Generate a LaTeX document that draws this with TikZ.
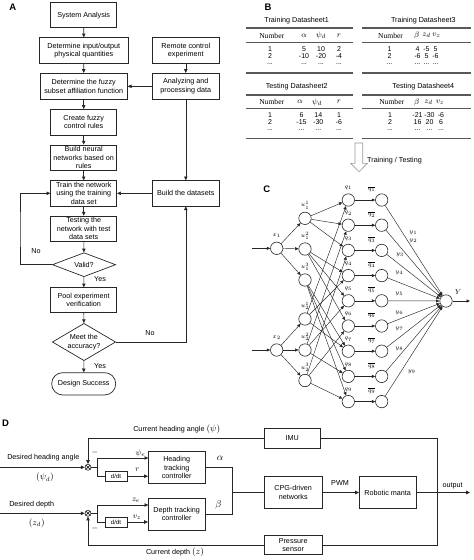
\documentclass[tikz,border=0pt]{standalone}
\usepackage{fontspec}
\setmainfont{Liberation Sans}
\newfontfamily\tnr{Liberation Serif}
\usetikzlibrary{arrows.meta,shapes.geometric}
\newcommand\fs{\fontsize{7.2}{8.4}\selectfont}
\newcommand\fsm{\fontsize{6}{7}\selectfont}
\newcommand\fsb{\fontsize{9.5}{11}\selectfont\bfseries}
\newcommand\tdots{...}
\tikzset{
  ln/.style={line width=0.6pt, draw=black!85},
  arr/.style={ln, -{Triangle[length=3.8pt,width=3.4pt]}},
  fbox/.style={draw=black!85, line width=0.7pt, align=center, inner sep=0pt, font=\fs},
  dia/.style={fbox, diamond, shape aspect=1.7},
  lab/.style={font=\fs, inner sep=0pt},
  plab/.style={font=\fsb, inner sep=0pt},
  nn/.style={circle, draw=black!85, line width=0.6pt, minimum size=12.4pt, inner sep=0pt},
  nlab/.style={font=\fsm, inner sep=0pt},
  narr/.style={line width=0.45pt, draw=black!85, -{Triangle[length=3.4pt,width=3pt]}},
  thick rule/.style={line width=1.1pt, draw=black!65},
  thin rule/.style={line width=0.5pt, draw=black!65},
  tnum/.style={font=\fontsize{7}{8}\selectfont, inner sep=0pt},
  thead/.style={font=\tnr\fontsize{7.6}{8.5}\selectfont, inner sep=0pt},
  sj/.style={circle, draw=black!85, line width=0.6pt, minimum size=6pt, inner sep=0pt},
  mlab/.style={font=\fontsize{8}{9}\selectfont, inner sep=0pt},
}
\begin{document}
\begin{tikzpicture}[x=1pt,y=-1pt]
\useasboundingbox (0,0) rectangle (474,560);

% ================= Panel A =================
\node[plab] at (12.7,7.5) {A};
\node[fbox, minimum width=66pt, minimum height=25pt] (sa) at (83.7,15.2) {System Analysis};
\node[fbox, minimum width=89pt, minimum height=25.6pt] (dio) at (83.8,50.5) {Determine input/output\\physical quantities};
\node[fbox, minimum width=66.3pt, minimum height=25.6pt] (rce) at (185.8,50.5) {Remote control\\experiment};
\node[fbox, minimum width=87.3pt, minimum height=26pt] (dfs) at (83.7,86.3) {Determine the fuzzy\\subset affiliation function};
\node[fbox, minimum width=66.3pt, minimum height=26pt] (apd) at (185.8,86.3) {Analyzing and\\processing data};
\node[fbox, minimum width=66pt, minimum height=25.7pt] (cfr) at (83.7,122.2) {Create fuzzy\\control rules};
\node[fbox, minimum width=66pt, minimum height=25.7pt] (bnn) at (83.7,157.8) {Build neural\\networks based on\\rules};
\node[fbox, minimum width=66pt, minimum height=25.3pt] (trn) at (83.7,193.3) {Train the network\\using the training\\data set};
\node[fbox, minimum width=66.3pt, minimum height=25.3pt] (bds) at (185.8,193.3) {Build the datasets};
\node[fbox, minimum width=66pt, minimum height=25.3pt] (tst) at (83.7,228.7) {Testing the\\network with test\\data sets};
\node[dia, minimum width=63.3pt, minimum height=24pt, shape aspect=2.6] (val) at (84,264.7) {Valid?};
\node[fbox, minimum width=66pt, minimum height=25pt] (pool) at (83.7,300.2) {Pool experiment\\verification};
\node[dia, minimum width=63.3pt, minimum height=37.3pt] (meet) at (84,342) {Meet the\\accuracy?};
\node[fbox, rounded corners=11pt, minimum width=64pt, minimum height=22.3pt] (ds) at (83.7,383.8) {Design Success};

\draw[arr] (sa) -- (dio);
\draw[arr] (dio) -- (dfs);
\draw[arr] (dfs) -- (cfr);
\draw[arr] (cfr) -- (bnn);
\draw[arr] (bnn) -- (trn);
\draw[arr] (trn) -- (tst);
\draw[arr] (tst) -- (val);
\draw[arr] (val) -- (pool);
\draw[arr] (pool) -- (meet);
\draw[arr] (meet) -- (ds);
\draw[arr] (rce) -- (apd);
\draw[arr] (apd) -- (dfs);
\draw[arr] (apd) -- (bds);
\draw[arr] (bds) -- (trn);
\coordinate (nol) at (20,230);
\draw[arr] (val.west) -| (nol) |- (trn.west);
\draw[arr] (meet.east) -| (bds.south);
\node[lab] at (36,251) {No};
\node[lab] at (100,279.5) {Yes};
\node[lab] at (150,332.7) {No};
\node[lab] at (100,366) {Yes};

% ================= Panel B =================
\node[plab] at (268,7.5) {B};
% table 1
\node[lab] at (296.7,20.3) {Training Datasheet1};
\draw[thick rule] (245.7,28) -- (353.3,28);
\draw[thin rule] (245.7,42) -- (353.3,42);
\draw[thick rule] (245.7,73) -- (353.3,73);
\node[thead] at (271.7,35.5) {Number};
\node[mlab] at (304,35.5) {$\alpha$};
\node[mlab] at (321,35.5) {$\psi_d$};
\node[mlab] at (339,35.5) {$r$};
\foreach \a/\b/\c/\d/\y in {1/5/10/2/49.5, 2/-10/-20/-4/56.5, \tdots/\tdots/\tdots/\tdots/64}{
  \node[tnum] at (270,\y) {\a};
  \node[tnum] at (304,\y) {\b};
  \node[tnum] at (321,\y) {\c};
  \node[tnum] at (339,\y) {\d};
}
% table 2
\node[lab] at (296.7,87) {Testing Datasheet2};
\draw[thick rule] (245.7,95) -- (353.3,95);
\draw[thin rule] (245.7,108.5) -- (353.3,108.5);
\draw[thick rule] (245.7,138.5) -- (353.3,138.5);
\node[thead] at (271.7,102) {Number};
\node[mlab] at (300,102) {$\alpha$};
\node[mlab] at (317,102) {$\psi_d$};
\node[mlab] at (339,102) {$r$};
\foreach \a/\b/\c/\d/\y in {1/6/14/1/115.5, 2/-15/-30/-6/122.5, \tdots/\tdots/\tdots/\tdots/130}{
  \node[tnum] at (270,\y) {\a};
  \node[tnum] at (301.5,\y) {\b};
  \node[tnum] at (318.3,\y) {\c};
  \node[tnum] at (339,\y) {\d};
}
% table 3
\node[lab] at (423.3,20.3) {Training Datasheet3};
\draw[thick rule] (362,28) -- (471,28);
\draw[thin rule] (362,42) -- (471,42);
\draw[thick rule] (362,73) -- (471,73);
\node[thead] at (390.5,35.5) {Number};
\node[mlab] at (416.7,35.5) {$\beta$};
\node[mlab] at (426.5,35.5) {$z_d$};
\node[mlab] at (436.5,35.5) {$v_z$};
\foreach \a/\b/\c/\d/\y in {1/4/-5/5/49.5, 2/-6/5/-6/56.5, \tdots/\tdots/\tdots/\tdots/64}{
  \node[tnum] at (389.5,\y) {\a};
  \node[tnum] at (417.5,\y) {\b};
  \node[tnum] at (426.5,\y) {\c};
  \node[tnum] at (435.5,\y) {\d};
}
% table 4
\node[lab] at (423.3,87) {Testing Datasheet4};
\draw[thick rule] (362,95) -- (471,95);
\draw[thin rule] (362,108.5) -- (471,108.5);
\draw[thick rule] (362,138.5) -- (471,138.5);
\node[thead] at (391.7,102) {Number};
\node[mlab] at (416.7,102) {$\beta$};
\node[mlab] at (428.5,102) {$z_d$};
\node[mlab] at (440,102) {$v_z$};
\foreach \a/\b/\c/\d/\y in {1/-21/-30/-6/115.5, 2/16/20/6/122.5, \tdots/\tdots/\tdots/\tdots/130}{
  \node[tnum] at (390,\y) {\a};
  \node[tnum] at (417.5,\y) {\b};
  \node[tnum] at (429.5,\y) {\c};
  \node[tnum] at (441,\y) {\d};
}
% hollow arrow
\draw[line width=0.6pt, draw=black!40] (355,143) -- (362.7,143) -- (362.7,163.3) -- (367.3,163.3) -- (359,171.7) -- (350.7,163.3) -- (355,163.3) -- cycle;
\node[lab] at (394.5,160.5) {Training / Testing};

% ================= Panel C =================
\node[plab] at (266.7,189) {C};
\node[nn] (x1) at (276.7,248.3) {};
\node[nn] (x2) at (276.7,350) {};
\node[nlab] at (276.7,235.5) {$x_1$};
\node[nlab] at (276.7,337.5) {$x_2$};
\coordinate (in1) at (251.7,248.3);
\coordinate (in2) at (251.7,350);
\draw[narr] (in1) -- (x1);
\draw[narr] (in2) -- (x2);
\foreach \i/\y in {1/218.3, 2/249, 3/280}{
  \node[nn] (ua\i) at (305,\y) {};
  \node[nlab] at (305,\y-13.2) {$u_1^{\i}$};
  \draw[narr] (x1) -- (ua\i);
}
\foreach \i/\y in {1/319, 2/350, 3/380.5}{
  \node[nn] (ub\i) at (305,\y) {};
  \node[nlab] at (305,\y-13.2) {$u_2^{\i}$};
  \draw[narr] (x2) -- (ub\i);
}
\node[nn] (Y) at (446,301) {};
\node[nlab, font=\fontsize{7}{8}\selectfont] at (458,291.7) {$Y$};
\coordinate (yout) at (470,301);
\draw[narr] (Y) -- (yout);
\foreach \k/\ly/\lx in {1/232.3/413.3, 2/241/413.3, 3/255/400, 4/272.3/399.3, 5/293.3/399.3, 6/312.7/399.3, 7/329/399.3, 8/348.3/399.3, 9/371.7/411.7}{
  \pgfmathsetmacro\yy{200+25.2*(\k-1)}
  \node[nn] (q\k) at (348.3,\yy) {};
  \node[nn] (qb\k) at (381.7,\yy) {};
  \node[nlab] at (348.3,\yy-12) {$q_{\k}$};
  \node[nlab] at (371.7,\yy-11) {$\overline{q_{\k}}$};
  \draw[narr] (q\k) -- (qb\k);
  \draw[narr] (qb\k) -- (Y);
  \node[nlab] at (\lx,\ly) {$y_{\k}$};
}
\foreach \i in {1,2,3}{
  \foreach \j in {1,2,3}{
    \pgfmathtruncatemacro\kk{3*(\i-1)+\j}
    \draw[narr] (ua\i) -- (q\kk);
    \draw[narr] (ub\j) -- (q\kk);
  }
}

% ================= Panel D =================
\node[plab] at (5.5,423.5) {D};
\node[lab] at (176.7,429) {Current heading angle \fontsize{9}{10}\selectfont$(\psi)$};
\node[lab] at (175,552.3) {Current depth \fontsize{9}{10}\selectfont$(z)$};
\node[lab] at (43.3,457.7) {Desired heading angle};
\node[lab, font=\fontsize{9}{10}\selectfont] at (45,477.7) {$(\psi_d)$};
\node[lab] at (31.7,504.5) {Desired depth};
\node[lab, font=\fontsize{9}{10}\selectfont] at (36.7,523.3) {$(z_d)$};

\node[sj] (j1) at (88,467.3) {};
\draw[line width=0.5pt] (j1.north west) -- (j1.south east) (j1.north east) -- (j1.south west);
\node[sj] (j2) at (88,513.3) {};
\draw[line width=0.5pt] (j2.north west) -- (j2.south east) (j2.north east) -- (j2.south west);
\node[lab, font=\fontsize{8}{9}\selectfont] at (95,452.7) {$-$};
\node[lab, font=\fontsize{8}{9}\selectfont] at (95,528.3) {$-$};

\node[fbox, minimum width=56.7pt, minimum height=31.6pt] (hb) at (176.7,467.5) {Heading\\tracking\\controller};
\node[fbox, minimum width=56.7pt, minimum height=31.7pt] (db) at (176.7,514.2) {Depth tracking\\controller};
\node[fbox, minimum width=21.7pt, minimum height=9.7pt, font=\fontsize{6}{7}\selectfont] (dd1) at (116,476.2) {d/dt};
\node[fbox, minimum width=21.7pt, minimum height=9.7pt, font=\fontsize{6}{7}\selectfont] (dd2) at (116,522) {d/dt};
\node[fbox, minimum width=56.7pt, minimum height=20pt] (imu) at (292.3,438.3) {IMU};
\node[fbox, minimum width=58.3pt, minimum height=31.6pt] (cpg) at (293.2,492.5) {CPG-driven\\networks};
\node[fbox, minimum width=56.7pt, minimum height=31.6pt] (rm) at (387.7,492.5) {Robotic manta};
\node[fbox, minimum width=58.3pt, minimum height=18.6pt] (ps) at (293.2,545) {Pressure\\sensor};

\coordinate (hin1) at (0,467.3);
\coordinate (hin2) at (0,513.3);
\draw[arr] (hin1) -- (j1);
\draw[arr] (hin2) -- (j2);
\draw[arr] (imu.west) -| (j1.north);
\draw[arr] (ps.west) -| (j2.south);

\coordinate (b1) at (97,467.3);
\coordinate (pe) at (148.35,458);
\draw[arr] (j1.east) -- (b1) |- (pe);
\draw[ln] (b1) |- (dd1.west);
\draw[arr] (dd1.east) -- (hb.west |- dd1.east);
\coordinate (b2) at (97,513.3);
\coordinate (ze) at (148.35,505);
\draw[arr] (j2.east) -- (b2) |- (ze);
\draw[ln] (b2) |- (dd2.west);
\draw[arr] (dd2.east) -- (db.west |- dd2.east);

\node[mlab] at (140.5,453) {$\psi_e$};
\node[mlab] at (137.5,470) {$r$};
\node[mlab] at (136,500) {$z_e$};
\node[mlab] at (137,517) {$v_z$};
\node[lab, font=\fontsize{10}{11}\selectfont] at (220,458) {$\alpha$};
\node[lab, font=\fontsize{10}{11}\selectfont] at (218.5,505) {$\beta$};

\coordinate (br) at (232.7,492.5);
\draw[ln] (hb.east) -| (br) |- (db.east);
\draw[ln] (br) -- (cpg.west);
\draw[arr] (cpg) -- (rm);
\node[lab] at (340,483.3) {PWM};
\coordinate (out) at (470,492.5);
\draw[arr] (rm.east) -- (out);
\node[lab] at (452.7,485.7) {output};
\coordinate (fbx) at (437.3,492.5);
\draw[ln] (imu.east) -| (fbx) |- (ps.east);
\end{tikzpicture}
\end{document}
